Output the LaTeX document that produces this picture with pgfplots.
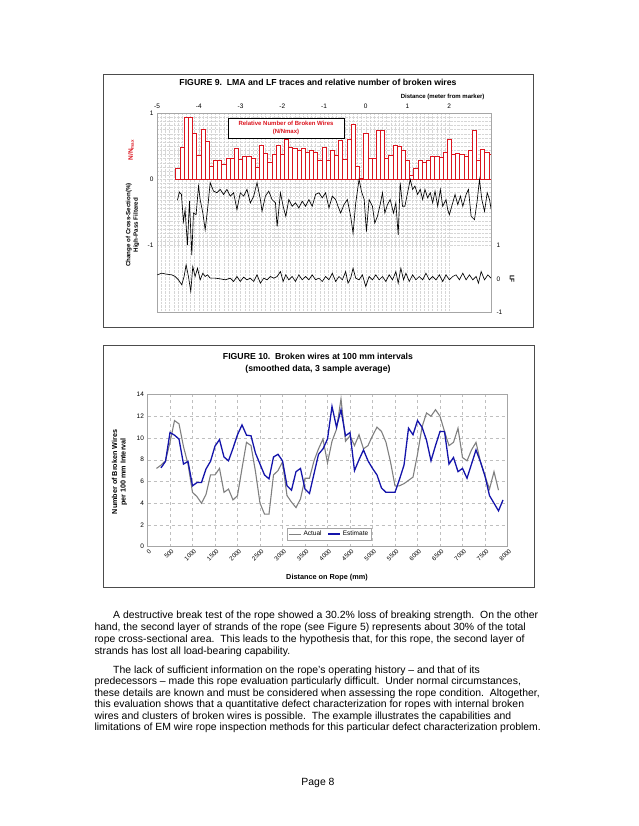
\documentclass[border=0pt]{standalone}
\usepackage{fontspec}
\setmainfont{Liberation Sans}
\usepackage{pgfplots}
\pgfplotsset{compat=1.18}
\definecolor{bred}{RGB}{220,20,30}
\definecolor{eblue}{RGB}{20,20,170}
\definecolor{agray}{RGB}{128,128,128}
\pgfplotstableread{
x y
-4.5 0.16
-4.4 0.48
-4.3 0.93
-4.2 0.93
-4.1 0.70
-4.0 0.36
-3.9 0.75
-3.8 0.57
-3.7 0.19
-3.6 0.28
-3.5 0.29
-3.4 0.22
-3.3 0.32
-3.2 0.32
-3.1 0.47
-3.0 0.30
-2.9 0.35
-2.8 0.35
-2.7 0.31
-2.6 0.18
-2.5 0.51
-2.4 0.39
-2.3 0.25
-2.2 0.38
-2.1 0.52
-2.0 0.37
-1.9 0.61
-1.8 0.48
-1.7 0.47
-1.6 0.44
-1.5 0.47
-1.4 0.41
-1.3 0.43
-1.2 0.40
-1.1 0.28
-1.0 0.49
-0.9 0.29
-0.8 0.44
-0.7 0.36
-0.6 0.59
-0.5 0.30
-0.4 0.61
-0.3 0.83
-0.2 0.20
-0.1 0.02
0.0 0.69
0.1 0.31
0.2 0.31
0.3 0.74
0.4 0.74
0.5 0.32
0.6 0.36
0.7 0.52
0.8 0.50
0.9 0.43
1.0 0.29
1.1 0.06
1.2 0.17
1.3 0.28
1.4 0.26
1.5 0.29
1.6 0.35
1.7 0.35
1.8 0.33
1.9 0.40
2.0 0.60
2.1 0.38
2.2 0.39
2.3 0.38
2.4 0.35
2.5 0.44
2.6 0.74
2.7 0.29
2.8 0.45
2.9 0.40
3.0 0.37
}\barsdata
\pgfplotstableread{
x y
-4.511 -0.315
-4.463 -0.193
-4.415 -0.228
-4.367 -0.635
-4.327 -0.457
-4.271 -0.990
-4.223 -0.330
-4.167 -1.142
-4.127 -0.508
-4.063 -0.533
-4.006 -0.102
-3.966 -0.305
-3.902 -0.508
-3.846 -0.761
-3.790 -0.457
-3.726 -0.051
-3.646 -0.178
-3.566 -0.203
-3.486 -0.152
-3.405 -0.228
-3.325 -0.152
-3.245 -0.254
-3.165 -0.203
-3.085 -0.457
-3.005 -0.203
-2.925 -0.254
-2.845 -0.152
-2.764 -0.355
-2.684 -0.254
-2.604 -0.051
-2.524 -0.305
-2.484 -0.482
-2.404 -0.254
-2.324 -0.178
-2.244 -0.305
-2.163 -0.355
-2.123 -0.711
-2.043 -0.203
-1.979 -0.406
-1.915 -0.558
-1.843 -0.305
-1.763 -0.406
-1.683 -0.355
-1.603 -0.431
-1.522 -0.330
-1.442 -0.406
-1.362 -0.305
-1.282 -0.406
-1.202 -0.228
-1.122 -0.203
-1.042 -0.279
-0.962 -0.203
-0.881 -0.431
-0.801 -0.254
-0.721 -0.305
-0.665 -0.406
-0.601 -0.508
-0.521 -0.381
-0.441 -0.305
-0.361 -0.558
-0.304 -0.812
-0.240 -0.355
-0.160 0.000
-0.104 -0.178
-0.037 -0.305
0.016 -0.787
0.080 -0.305
0.160 -0.406
0.216 -0.660
0.280 -0.558
0.345 -0.381
0.401 -0.203
0.457 -0.508
0.521 -0.381
0.585 -0.305
0.665 -0.508
0.721 -0.355
0.777 -0.838
0.825 -0.051
0.881 -0.406
0.937 -0.406
1.002 -0.203
1.066 0.000
1.122 -0.152
1.178 -0.102
1.242 -0.228
1.306 -0.152
1.362 -0.305
1.418 -0.152
1.482 -0.279
1.546 -0.203
1.603 -0.355
1.659 -0.178
1.723 -0.406
1.787 -0.152
1.843 -0.406
1.923 -0.305
1.963 -0.457
2.003 -0.533
2.083 -0.355
2.139 -0.228
2.204 -0.381
2.268 -0.254
2.324 -0.406
2.404 -0.228
2.460 -0.152
2.524 -0.558
2.604 -0.609
2.668 -0.330
2.724 0.000
2.780 -0.305
2.845 -0.482
2.909 -0.203
2.965 -0.305
3.005 -0.457
}\lmadata
\pgfplotstableread{
x y
-4.992 0.12
-4.888 0.17
-4.768 0.14
-4.647 0.12
-4.567 0.07
-4.487 -0.03
-4.407 -0.18
-4.351 0.07
-4.303 0.42
-4.247 0.07
-4.191 -0.38
-4.143 0.37
-4.087 0.07
-4.030 0.32
-3.966 -0.03
-3.902 0.17
-3.846 0.07
-3.790 0.12
-3.726 0.02
-3.606 0.02
-3.486 0.00
-3.365 -0.03
-3.245 0.02
-3.165 -0.08
-3.085 0.07
-3.005 -0.08
-2.925 0.05
-2.845 -0.03
-2.764 0.02
-2.684 -0.08
-2.604 0.12
-2.524 -0.13
-2.444 0.02
-2.364 -0.03
-2.284 0.07
-2.204 0.02
-2.123 0.07
-2.043 0.22
-1.979 -0.08
-1.915 0.12
-1.843 -0.03
-1.763 0.07
-1.683 -0.08
-1.603 0.12
-1.522 -0.03
-1.442 0.07
-1.362 -0.03
-1.282 0.12
-1.202 -0.03
-1.122 0.02
-1.042 -0.08
-0.962 0.07
-0.881 -0.03
-0.801 0.17
-0.721 -0.08
-0.641 0.07
-0.561 -0.03
-0.481 0.22
-0.425 -0.13
-0.361 0.02
-0.304 0.32
-0.240 0.02
-0.160 -0.03
-0.080 0.12
0.000 -0.23
0.080 0.07
0.160 -0.03
0.240 0.12
0.321 -0.03
0.401 0.07
0.481 -0.08
0.561 0.12
0.641 -0.03
0.721 0.22
0.777 -0.13
0.841 0.32
0.905 -0.03
0.962 0.17
1.042 -0.08
1.122 0.12
1.202 -0.03
1.282 0.07
1.362 -0.03
1.442 0.17
1.522 -0.03
1.603 0.07
1.683 -0.03
1.763 0.12
1.843 -0.08
1.923 0.12
2.003 -0.03
2.083 0.07
2.163 0.12
2.244 -0.03
2.324 0.17
2.404 -0.03
2.484 0.12
2.564 -0.03
2.644 0.07
2.700 -0.13
2.764 0.22
2.845 -0.03
2.925 0.12
3.000 0.02
}\lfdata
\pgfplotstableread{
x y
200 7.2
300 7.5
400 7.9
500 9.6
600 11.6
700 11.3
800 9.2
900 7.6
1000 5.0
1100 4.6
1200 4.0
1300 4.8
1400 6.6
1500 6.6
1600 7.2
1700 5.0
1800 5.3
1900 4.3
2000 4.7
2100 7.2
2200 9.6
2300 9.3
2400 6.9
2500 4.0
2600 3.0
2700 3.0
2800 6.6
2900 7.0
3000 7.8
3100 4.7
3200 4.1
3300 3.6
3400 4.4
3500 6.3
3600 6.3
3700 7.9
3800 9.0
3900 9.9
4000 7.7
4100 9.7
4200 10.8
4300 13.6
4400 9.7
4500 10.2
4600 9.3
4700 10.3
4800 9.0
4900 9.3
5000 10.2
5100 11.0
5200 10.6
5300 9.6
5400 7.8
5500 5.6
5600 5.6
5700 5.8
5800 6.1
5900 6.4
6000 8.5
6100 11.0
6200 12.3
6300 12.0
6400 12.6
6500 12.0
6600 10.6
6700 9.3
6800 9.6
6900 10.9
7000 8.2
7100 7.9
7200 8.9
7300 9.6
7400 7.8
7500 6.5
7600 5.3
7700 6.9
7800 5.2
}\actualdata
\pgfplotstableread{
x y
300 7.25
400 7.85
500 10.5
600 10.26
700 9.9
800 7.6
900 7.85
1000 5.6
1100 5.9
1200 5.9
1300 7.15
1400 7.85
1500 9.25
1600 9.85
1700 8.25
1800 7.9
1900 9.05
2000 10.3
2100 11.2
2200 10.26
2300 10.2
2400 8.6
2500 7.6
2600 6.6
2700 6.24
2800 8.25
2900 8.5
3000 7.9
3100 5.6
3200 5.2
3300 6.9
3400 7.2
3500 5.3
3600 4.9
3700 6.7
3800 8.5
3900 9.0
4000 9.9
4100 12.9
4200 11.0
4300 12.6
4400 10.2
4500 10.5
4600 7.0
4700 8.0
4800 8.9
4900 7.9
5000 7.2
5100 6.6
5200 5.4
5300 5.0
5400 5.0
5500 5.0
5600 6.2
5700 7.5
5800 10.9
5900 10.3
6000 11.6
6100 11.0
6200 9.8
6300 7.9
6400 9.3
6500 10.6
6600 10.6
6700 7.6
6800 8.2
6900 6.9
7000 7.2
7100 6.3
7200 7.6
7300 8.9
7400 7.8
7500 6.5
7600 4.7
7700 4.0
7800 3.3
7900 4.3
}\estimatedata
\begin{document}
\begin{tikzpicture}[x=1pt,y=1pt]
\path[use as bounding box] (0,0) rectangle (638,826);
% figure frames
\draw[black!70, line width=1pt] (103,498) rectangle (533,751);
\draw[black!70, line width=1pt] (103,238) rectangle (534,480);

% ---------------- FIGURE 9 ----------------
\begin{axis}[
  at={(157pt,514pt)}, anchor=south west, scale only axis,
  width=334pt, height=199pt,
  xmin=-5, xmax=3, ymin=-2, ymax=1,
  xtick={-5,-4,...,2}, ytick={-1,0,1},
  xtick pos=upper, xticklabel pos=upper, ytick pos=left,
  minor x tick num=9, minor y tick num=15,
  grid=both,
  major grid style={densely dotted, gray!32, line width=0.35pt},
  minor grid style={densely dotted, gray!32, line width=0.35pt},
  major tick length=0pt, minor tick length=0pt,
  axis line style={gray!70, line width=0.6pt},
  /pgf/number format/assume math mode=true,
  ticklabel style={font=\fontsize{6.5}{7}\selectfont},
  xticklabel style={yshift=1pt},
  clip=true,
]
\addplot[ybar, bar width=0.1, bar shift=0pt, draw=bred, fill=white, line width=0.6pt] table[x=x,y=y] {\barsdata};
\addplot[black, line width=0.65pt, no marks] table[x=x,y=y] {\lmadata};
\end{axis}
\begin{axis}[
  at={(157pt,514pt)}, anchor=south west, scale only axis,
  width=334pt, height=199pt,
  xmin=-5, xmax=3, ymin=-1, ymax=5,
  axis x line=none, axis y line*=right,
  ytick={-1,0,1},
  major tick length=0pt,
  axis line style={gray!70, line width=0.6pt},
  /pgf/number format/assume math mode=true,
  ticklabel style={font=\fontsize{6.5}{7}\selectfont},
  yticklabel style={xshift=2pt},
]
\addplot[black, line width=0.65pt, no marks] table[x=x,y=y] {\lfdata};
\end{axis}
\node[font=\bfseries\fontsize{8.7}{10}\selectfont] at (318,743.3) {FIGURE 9.\ \ LMA and LF traces and relative number of broken wires};
\node[anchor=east, font=\bfseries\fontsize{6}{7}\selectfont] at (488,729) {Distance (meter from marker)};
\node[rotate=90, text=bred, font=\bfseries\fontsize{6.5}{7}\selectfont] at (131,676) {N/N\textsubscript{max}};
\node[rotate=90, align=center, font=\bfseries\fontsize{6.2}{7.6}\selectfont] at (132.5,601) {Change of Cross-Section(\%)\\High-Pass Filtered};
\node[rotate=-90, font=\bfseries\fontsize{6.5}{7}\selectfont] at (512,547) {LF};
\node[draw=black, fill=white, line width=0.6pt, align=center, text=bred, inner sep=1pt,
  font=\bfseries\fontsize{6}{7.4}\selectfont, minimum width=116pt, minimum height=20pt] at (286,698)
  {Relative Number of Broken Wires\\(N/Nmax)};

% ---------------- FIGURE 10 ----------------
\begin{axis}[
  at={(147.5pt,279.3pt)}, anchor=south west, scale only axis,
  width=360pt, height=152.2pt,
  xmin=0, xmax=8000, ymin=0, ymax=14,
  xtick={0,500,...,8000}, ytick={0,2,...,14},
  xticklabels={0,500,1000,1500,2000,2500,3000,3500,4000,4500,5000,5500,6000,6500,7000,7500,8000},
  grid=major,
  major grid style={dashed, gray!50, line width=0.4pt},
  major tick length=0pt,
  axis line style={gray!70, line width=0.8pt},
  /pgf/number format/assume math mode=true,
  ticklabel style={font=\fontsize{6.5}{7}\selectfont},
  xticklabel style={rotate=45, anchor=north east, inner sep=0.5pt, yshift=-1.5pt, font=\fontsize{6.1}{6.5}\selectfont},
  legend style={at={(0.505,0.083)}, anchor=center, legend columns=2,
    font=\fontsize{6.5}{7}\selectfont, draw=gray!70, inner sep=1pt,
    /tikz/every even column/.append style={column sep=4pt}},
  legend image code/.code={\draw[#1] (0pt,0pt) -- (12pt,0pt);},
]
\addplot[agray, line width=1.1pt, no marks] table[x=x,y=y] {\actualdata};
\addlegendentry{Actual}
\addplot[eblue, line width=1.3pt, no marks] table[x=x,y=y] {\estimatedata};
\addlegendentry{Estimate}
\end{axis}
\node[align=center, font=\bfseries\fontsize{8.7}{12.5}\selectfont] at (318,462.5) {FIGURE 10.\ \ Broken wires at 100 mm intervals\\(smoothed data, 3 sample average)};
\node[rotate=90, align=center, font=\bfseries\fontsize{7.2}{8.6}\selectfont] at (119.5,354) {Number of Broken Wires\\per 100 mm Interval};
\node[font=\bfseries\fontsize{7.3}{8}\selectfont] at (327,248) {Distance on Rope (mm)};

% ---------------- BODY TEXT ----------------
\begin{scope}[every node/.style={anchor=base west, inner sep=0pt, font=\fontsize{10.43}{12}\selectfont}]
\node at (113,207.5) {A destructive break test of the rope showed a 30.2\% loss of breaking strength.\ \ On the other};
\node at (94.3,195.5) {hand, the second layer of strands of the rope (see Figure 5) represents about 30\% of the total};
\node at (94.3,183.5) {rope cross-sectional area.\ \ This leads to the hypothesis that, for this rope, the second layer of};
\node at (94.3,171.5) {strands has lost all load-bearing capability.};
\node at (113,152.5) {The lack of sufficient information on the rope’s operating history – and that of its};
\node at (94.3,141) {predecessors – made this rope evaluation particularly difficult.\ \ Under normal circumstances,};
\node at (94.3,129.5) {these details are known and must be considered when assessing the rope condition.\ \ Altogether,};
\node at (94.3,118) {this evaluation shows that a quantitative defect characterization for ropes with internal broken};
\node at (94.3,106.5) {wires and clusters of broken wires is possible.\ \ The example illustrates the capabilities and};
\node at (94.3,95) {limitations of EM wire rope inspection methods for this particular defect characterization problem.};
\end{scope}
\node[anchor=base, inner sep=0pt, font=\fontsize{10.43}{12}\selectfont] at (318,40) {Page 8};
\end{tikzpicture}
\end{document}
